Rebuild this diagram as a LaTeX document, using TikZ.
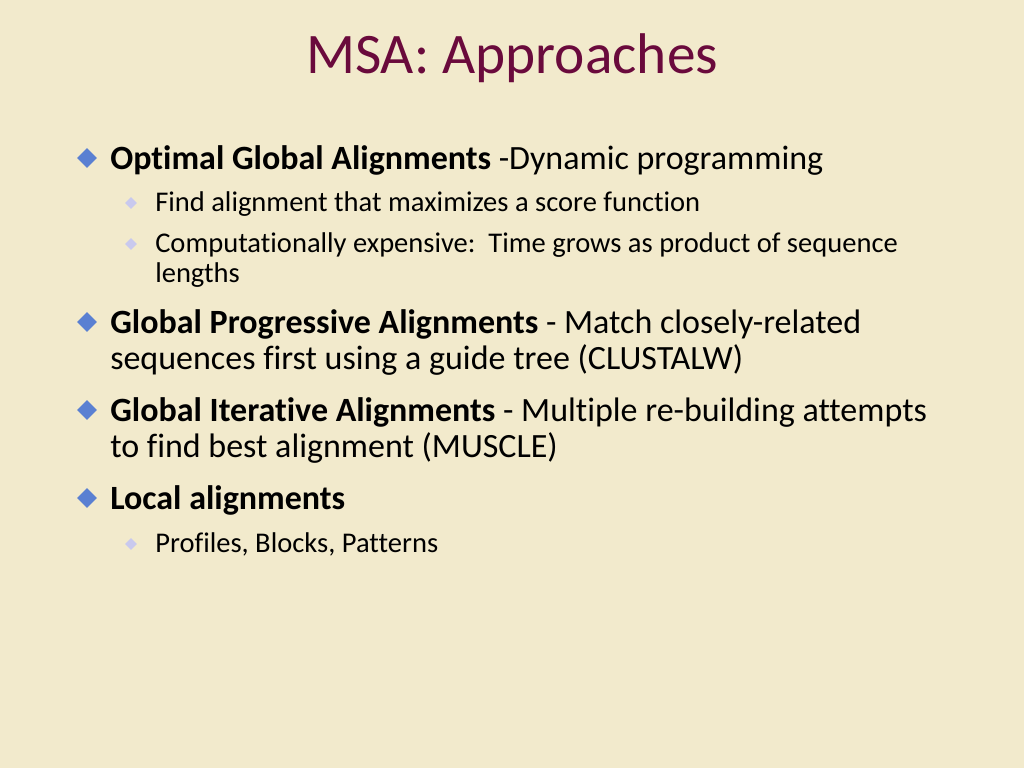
\documentclass[tikz,border=0pt]{standalone}
\usepackage{fontspec}
\setmainfont{Carlito}[Ligatures=NoCommon]
\usepackage{tikz}
\usetikzlibrary{shapes.geometric}
\definecolor{slidebg}{HTML}{F2EACC}
\definecolor{titlered}{HTML}{6A0A3C}
\definecolor{bulletblue}{HTML}{5A80D2}
\definecolor{subbullet}{HTML}{C9C9EE}

\begin{document}
\begin{tikzpicture}[
  x=0.75pt, y=-0.75pt,
  mainitem/.style={anchor=base west, inner sep=0pt, font=\fontsize{25.5}{30}\selectfont},
  subitem/.style={anchor=base west, inner sep=0pt, font=\fontsize{21.4}{26}\selectfont},
  bigdiamond/.style={diamond, fill=bulletblue, inner sep=0pt, minimum size=15pt},
  smalldiamond/.style={diamond, fill=subbullet, inner sep=0pt, minimum size=9pt},
]
\fill[slidebg] (0,0) rectangle (1024,768);
\useasboundingbox (0,0) rectangle (1024,768);

\node[anchor=base, inner sep=0pt, text=titlered, font=\fontsize{43}{50}\selectfont] (title) at (512,73) {MSA: Approaches};

% first group
\node[bigdiamond] (d1) at (87,158) {};
\node[mainitem] (optimal) at (110,169) {\textbf{Optimal Global Alignments} -Dynamic programming};
\node[smalldiamond] (s1) at (131,203) {};
\node[subitem] (score) at (155,211) {Find alignment that maximizes a score function};
\node[smalldiamond] (s2) at (131,244) {};
\node[subitem] (cost) at (155,252) {Computationally expensive:\ \ Time grows as product of sequence};
\node[subitem] (cost2) at (155,282) {lengths};

% progressive and iterative
\node[bigdiamond] (d2) at (87,322) {};
\node[mainitem] (progressive) at (110,333) {\textbf{Global Progressive Alignments} - Match closely-related};
\node[mainitem] (progressive2) at (110,369) {sequences first using a guide tree (CLUSTALW)};
\node[bigdiamond] (d3) at (87,410) {};
\node[mainitem] (iterative) at (110,421) {\textbf{Global Iterative Alignments} - Multiple re-building attempts};
\node[mainitem] (iterative2) at (110,457) {to find best alignment (MUSCLE)};

% local
\node[bigdiamond] (d4) at (87,498) {};
\node[mainitem] (local) at (110,509) {\textbf{Local alignments}};
\node[smalldiamond] (s3) at (131,544) {};
\node[subitem] (profiles) at (155,552) {Profiles, Blocks, Patterns};
\end{tikzpicture}
\end{document}
